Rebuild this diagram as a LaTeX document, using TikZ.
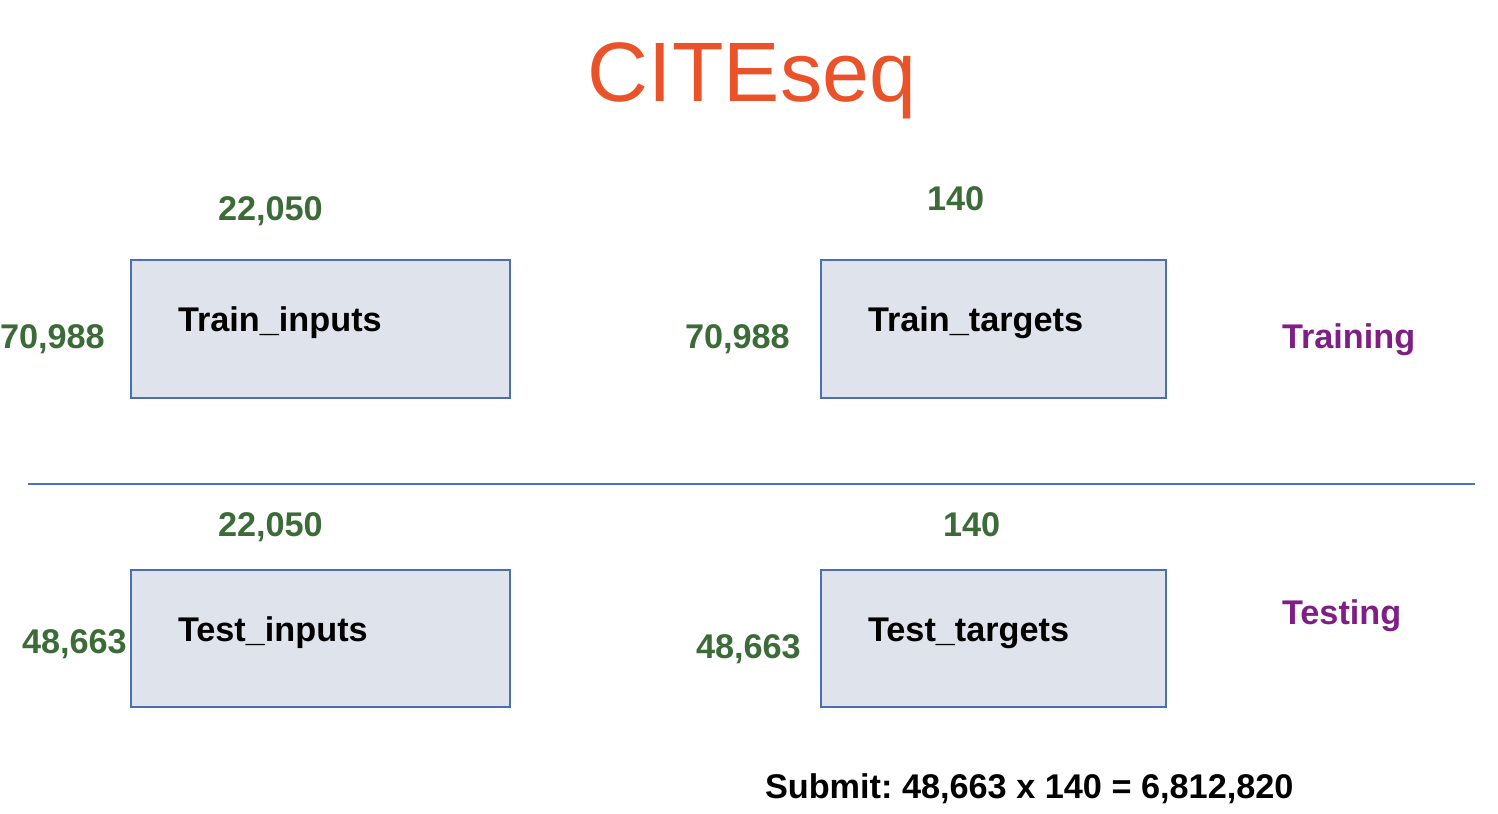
\documentclass[tikz,border=0pt]{standalone}
\usepackage{fontspec}
\setmainfont{Liberation Sans}
\frenchspacing
\definecolor{titlec}{HTML}{EA5329}
\definecolor{numc}{HTML}{3B6B37}
\definecolor{purp}{HTML}{7F1E84}
\definecolor{boxfill}{HTML}{DFE4EC}
\definecolor{boxdraw}{HTML}{4D6DB4}
\definecolor{linec}{HTML}{4A72C0}
\begin{document}
\begin{tikzpicture}[x=0.02cm,y=-0.02cm,
  every node/.style={inner sep=0pt,outer sep=0pt},
  box/.style={draw=boxdraw,fill=boxfill,line width=0.7pt,rectangle,anchor=north west},
  lbl/.style={anchor=base west,font=\fontsize{19.5}{23}\selectfont\bfseries},
  num/.style={anchor=base west,text=numc,font=\fontsize{19.5}{23}\selectfont\bfseries},
  phase/.style={anchor=base west,text=purp,font=\fontsize{19.5}{23}\selectfont\bfseries}]
\useasboundingbox (0,0) rectangle (1498,814);
\node[anchor=base,text=titlec,font=\fontsize{48}{56}\selectfont] (title) at (752,102) {CITEseq};
% boxes
\node[box,minimum width=379*0.02cm,minimum height=138*0.02cm] (trin) at (131,260) {};
\node[box,minimum width=345*0.02cm,minimum height=138*0.02cm] (trt) at (821,260) {};
\node[box,minimum width=379*0.02cm,minimum height=137*0.02cm] (tein) at (131,570) {};
\node[box,minimum width=345*0.02cm,minimum height=137*0.02cm] (tet) at (821,570) {};
\node[lbl] (trinl) at (178,332) {Train\_inputs};
\node[lbl] (trtl) at (868,332) {Train\_targets};
\node[lbl] (teinl) at (178,641) {Test\_inputs};
\node[lbl] (tetl) at (868,641) {Test\_targets};
% numbers
\node[num] (n1) at (218,221) {22,050};
\node[num] (n2) at (927,211) {140};
\node[num] (n3) at (0,348) {70,988};
\node[num] (n4) at (685,348) {70,988};
\node[num] (n5) at (218,536) {22,050};
\node[num] (n6) at (943,536) {140};
\node[num] (n7) at (22,653) {48,663};
\node[num] (n8) at (696,658) {48,663};
\node[phase] (train) at (1282,348) {Training};
\node[phase] (test) at (1282,624) {Testing};
% divider
\coordinate (la) at (28,484);
\coordinate (lb) at (1475,484);
\draw[linec,line width=1pt] (la) -- (lb);
\node[lbl] (submit) at (765,798) {Submit: 48,663 x 140 = 6,812,820};
\end{tikzpicture}
\end{document}
